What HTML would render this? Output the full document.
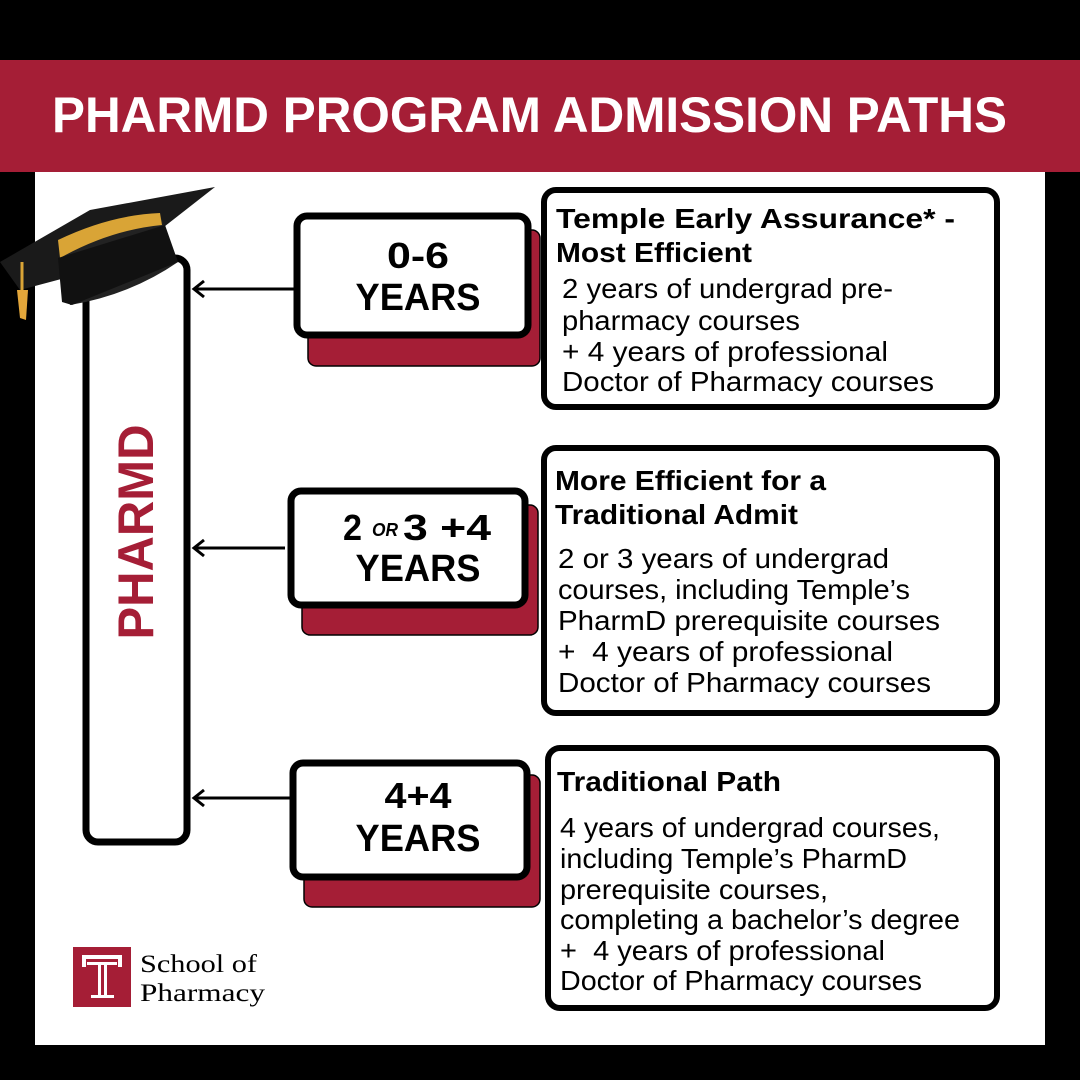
<!DOCTYPE html>
<html><head><meta charset="utf-8"><style>
html,body{margin:0;padding:0;background:#000;}
svg{display:block;}
.b{font-family:"Liberation Sans",sans-serif;font-weight:bold;}
.r{font-family:"Liberation Sans",sans-serif;}
</style></head><body>
<svg width="1080" height="1080" viewBox="0 0 1080 1080" xmlns="http://www.w3.org/2000/svg">
<rect width="1080" height="1080" fill="#000"/>
<rect x="35" y="160" width="1010" height="885" fill="#fff"/>
<rect x="0" y="60" width="1080" height="112" fill="#a51e36"/>
<text x="52" y="132" class="b" font-size="50" fill="#fff" textLength="955" lengthAdjust="spacingAndGlyphs">PHARMD PROGRAM ADMISSION PATHS</text>

<!-- PharmD tall box -->
<rect x="86" y="258" width="101" height="584" rx="12" fill="#fff" stroke="#000" stroke-width="7"/>
<text transform="translate(153,532) rotate(-90)" text-anchor="middle" class="b" font-size="50" fill="#a51e36" textLength="215" lengthAdjust="spacingAndGlyphs">PHARMD</text>

<!-- grad cap -->
<polygon points="0,262 90,210 215,187 160,230 95,270 20,290" fill="#1a1a1a"/>
<path d="M58,240 Q110,215 160,215 L178,262 Q130,295 70,305 Z" fill="#222"/>
<path d="M58,240 Q110,215 160,213 L162,225 Q110,230 60,258 Z" fill="#d9a436"/>
<polygon points="58,258 62,302 72,305 178,262 165,225" fill="#111"/>
<line x1="22" y1="262" x2="22" y2="300" stroke="#d9a436" stroke-width="3"/>
<polygon points="17,290 28,290 26,320 20,318" fill="#e3a63a"/>

<!-- arrows -->
<g stroke="#000" stroke-width="3" fill="none">
<line x1="295" y1="289" x2="194" y2="289"/><polyline points="204,281 194,289 204,297"/>
<line x1="285" y1="548" x2="194" y2="548"/><polyline points="204,540 194,548 204,556"/>
<line x1="290" y1="798" x2="194" y2="798"/><polyline points="204,790 194,798 204,806"/>
</g>

<!-- year boxes -->
<rect x="308" y="230" width="232" height="136" rx="8" fill="#a51e36" stroke="#000" stroke-width="1.5"/>
<rect x="297" y="216" width="231" height="119" rx="10" fill="#fff" stroke="#000" stroke-width="7"/>
<text x="418" y="268" text-anchor="middle" class="b" font-size="36" textLength="62" lengthAdjust="spacingAndGlyphs">0-6</text>
<text x="418" y="310" text-anchor="middle" class="b" font-size="38" textLength="125" lengthAdjust="spacingAndGlyphs">YEARS</text>

<rect x="302" y="505" width="236" height="130" rx="8" fill="#a51e36" stroke="#000" stroke-width="1.5"/>
<rect x="291" y="491" width="234" height="114" rx="10" fill="#fff" stroke="#000" stroke-width="7"/>
<text x="343" y="540" class="b" font-size="36" textLength="19" lengthAdjust="spacingAndGlyphs">2</text>
<text x="372" y="536" class="b" font-size="18" font-style="italic" textLength="26" lengthAdjust="spacingAndGlyphs">OR</text>
<text x="403" y="540" class="b" font-size="36" textLength="88" lengthAdjust="spacingAndGlyphs">3 +4</text>
<text x="418" y="581" text-anchor="middle" class="b" font-size="38" textLength="125" lengthAdjust="spacingAndGlyphs">YEARS</text>

<rect x="304" y="775" width="236" height="132" rx="8" fill="#a51e36" stroke="#000" stroke-width="1.5"/>
<rect x="293" y="763" width="234" height="114" rx="10" fill="#fff" stroke="#000" stroke-width="7"/>
<text x="418" y="808" text-anchor="middle" class="b" font-size="36" textLength="67" lengthAdjust="spacingAndGlyphs">4+4</text>
<text x="418" y="851" text-anchor="middle" class="b" font-size="38" textLength="125" lengthAdjust="spacingAndGlyphs">YEARS</text>

<!-- description boxes -->
<rect x="544" y="190" width="453" height="217" rx="12" fill="#fff" stroke="#000" stroke-width="6"/>
<text x="556" y="228" class="b" font-size="28" textLength="399" lengthAdjust="spacingAndGlyphs">Temple Early Assurance* -</text>
<text x="556" y="262" class="b" font-size="28" textLength="196" lengthAdjust="spacingAndGlyphs">Most Efficient</text>
<g class="r" font-size="28">
<text x="562" y="298" textLength="331" lengthAdjust="spacingAndGlyphs">2 years of undergrad pre-</text>
<text x="562" y="330" textLength="238" lengthAdjust="spacingAndGlyphs">pharmacy courses</text>
<text x="562" y="361" textLength="326" lengthAdjust="spacingAndGlyphs">+ 4 years of professional</text>
<text x="562" y="391" textLength="372" lengthAdjust="spacingAndGlyphs">Doctor of Pharmacy courses</text>
</g>

<rect x="544" y="448" width="453" height="265" rx="12" fill="#fff" stroke="#000" stroke-width="6"/>
<text x="555" y="490" class="b" font-size="28" textLength="271" lengthAdjust="spacingAndGlyphs">More Efficient for a</text>
<text x="555" y="524" class="b" font-size="28" textLength="243" lengthAdjust="spacingAndGlyphs">Traditional Admit</text>
<g class="r" font-size="28">
<text x="558" y="568" textLength="331" lengthAdjust="spacingAndGlyphs">2 or 3 years of undergrad</text>
<text x="558" y="599" textLength="352" lengthAdjust="spacingAndGlyphs">courses, including Temple’s</text>
<text x="558" y="630" textLength="382" lengthAdjust="spacingAndGlyphs">PharmD prerequisite courses</text>
<text x="558" y="661" textLength="335" lengthAdjust="spacingAndGlyphs">+&#160; 4 years of professional</text>
<text x="558" y="692" textLength="373" lengthAdjust="spacingAndGlyphs">Doctor of Pharmacy courses</text>
</g>

<rect x="548" y="748" width="449" height="260" rx="12" fill="#fff" stroke="#000" stroke-width="6"/>
<text x="557" y="791" class="b" font-size="28" textLength="224" lengthAdjust="spacingAndGlyphs">Traditional Path</text>
<g class="r" font-size="28">
<text x="560" y="837" textLength="380" lengthAdjust="spacingAndGlyphs">4 years of undergrad courses,</text>
<text x="560" y="868" textLength="347" lengthAdjust="spacingAndGlyphs">including Temple’s PharmD</text>
<text x="560" y="899" textLength="268" lengthAdjust="spacingAndGlyphs">prerequisite courses,</text>
<text x="560" y="929" textLength="400" lengthAdjust="spacingAndGlyphs">completing a bachelor’s degree</text>
<text x="560" y="960" textLength="325" lengthAdjust="spacingAndGlyphs">+&#160; 4 years of professional</text>
<text x="560" y="990" textLength="362" lengthAdjust="spacingAndGlyphs">Doctor of Pharmacy courses</text>
</g>

<!-- logo -->
<rect x="73" y="947" width="58" height="60" fill="#a51e36"/>
<g fill="#fff">
<rect x="82" y="955" width="40" height="4"/>
<rect x="82" y="955" width="4" height="12"/>
<rect x="118" y="955" width="4" height="12"/>
<rect x="87" y="962" width="30" height="3"/>
<rect x="98" y="962" width="3" height="33"/>
<rect x="104" y="962" width="3" height="33"/>
<rect x="91" y="995" width="23" height="3"/>
</g>
<text x="140" y="972" font-family="Liberation Serif,serif" font-size="25" textLength="117" lengthAdjust="spacingAndGlyphs">School of</text>
<text x="140" y="1001" font-family="Liberation Serif,serif" font-size="25" textLength="125" lengthAdjust="spacingAndGlyphs">Pharmacy</text>
</svg>
</body></html>
